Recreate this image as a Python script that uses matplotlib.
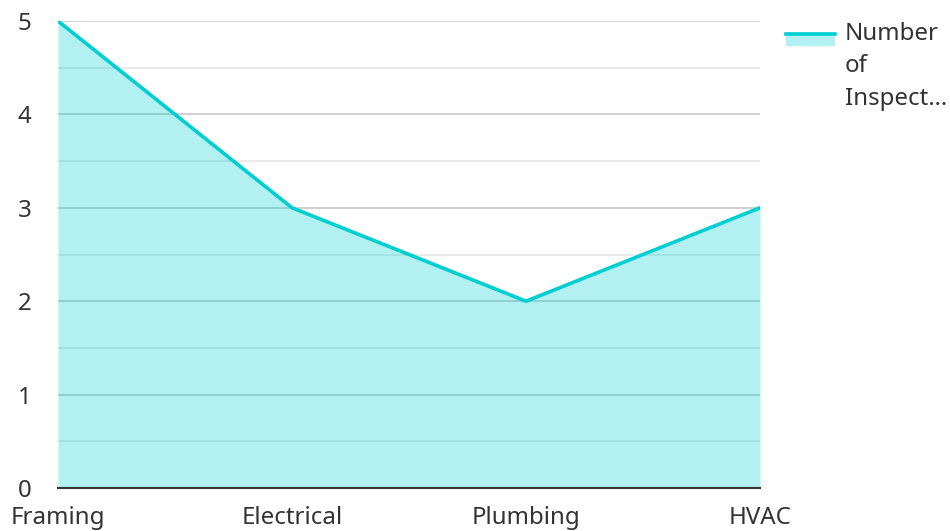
import matplotlib.pyplot as plt
from matplotlib.patches import Rectangle
from matplotlib.lines import Line2D
import numpy as np

categories = ["Framing", "Electrical", "Plumbing", "HVAC"]
inspections = [5, 3, 2, 3]
series_name = "Number\nof\nInspect…"

line_color = "#00CED1"
text_color = "#333333"

plt.rcParams['font.family'] = ['Noto Sans', 'DejaVu Sans']

fig = plt.figure(figsize=(9.5, 5.31), dpi=100)
ax = fig.add_axes([58 / 950, 43 / 531, 702 / 950, 467 / 531])

x = np.arange(len(categories))
ax.fill_between(x, inspections, 0, color=line_color, alpha=0.3, linewidth=0, zorder=2)
ax.plot(x, inspections, color=line_color, linewidth=2.6, zorder=3, solid_capstyle='round')

ax.set_xlim(0, len(categories) - 1)
ax.set_ylim(0, 5)
ax.set_yticks(np.arange(0, 6, 1))
ax.set_yticks(np.arange(0.5, 5, 1), minor=True)
ax.grid(which='major', axis='y', color='#c8c8c8', linewidth=1.2, zorder=1)
ax.grid(which='minor', axis='y', color='#e6e6e6', linewidth=1.2, zorder=1)
ax.set_xticks(x)
ax.set_xticklabels(categories)

for s in ['top', 'right', 'left']:
    ax.spines[s].set_visible(False)
ax.spines['bottom'].set_color(text_color)
ax.spines['bottom'].set_linewidth(1.5)
ax.spines['bottom'].set_zorder(4)
ax.tick_params(axis='both', which='both', length=0, labelsize=17.3, colors=text_color)
ax.tick_params(axis='y', pad=19)
ax.tick_params(axis='x', pad=13)

# legend drawn by hand in figure pixels
W, H = 950, 531
fig.patches.append(Rectangle((786 / W, 1 - 46 / H), 49 / W, 13 / H, transform=fig.transFigure,
                             facecolor=line_color, alpha=0.3, linewidth=0))
fig.lines.append(Line2D([786 / W, 835 / W], [1 - 34 / H, 1 - 34 / H], transform=fig.transFigure,
                        color=line_color, linewidth=2.6))
fig.text(845 / W, 1 - 22 / H, series_name, fontsize=17.3, color=text_color, va='top', ha='left',
         linespacing=1.46)

fig.savefig("out.png", dpi=100)
